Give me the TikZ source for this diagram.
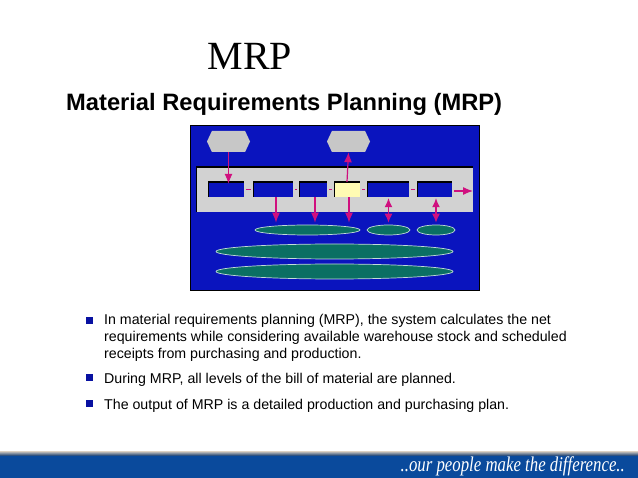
\documentclass[tikz,border=0pt]{standalone}
\usepackage{fontspec}
\setmainfont{Liberation Sans}
\newfontfamily\serifface{Liberation Serif}
\usetikzlibrary{shapes,backgrounds,arrows.meta}
\pgfdeclarelayer{nodelayer}
\pgfdeclarelayer{edgelayer}
\pgfsetlayers{nodelayer,edgelayer,main}
\definecolor{panelblue}{HTML}{0A14BE}
\definecolor{bandgrey}{HTML}{D2D2D2}
\definecolor{oval}{HTML}{0B6F63}
\definecolor{pink}{HTML}{D0107F}
\definecolor{footblue}{HTML}{0A4A9C}
\tikzstyle{none}=[inner sep=0pt]
\tikzstyle{panel}=[rectangle,fill=panelblue,draw=black,line width=0.6pt,inner sep=0pt,minimum width=289pt,minimum height=165pt]
\tikzstyle{band}=[rectangle,fill=bandgrey,inner sep=0pt,minimum width=277pt,minimum height=45pt,path picture={\draw[black,line width=2pt] (path picture bounding box.south west) |- (path picture bounding box.north east);}]
\tikzstyle{hexa}=[signal,signal to=east and west,signal pointer angle=130,fill=bandgrey!95!black,inner sep=0pt,minimum width=43pt,minimum height=21pt]
\tikzstyle{proc}=[rectangle,fill=panelblue,inner sep=0pt,minimum height=15pt,path picture={\draw[black,line width=2pt] (path picture bounding box.south west) |- (path picture bounding box.north east);}]
\tikzstyle{stock}=[ellipse,fill=oval,draw=white!75!oval,line width=0.7pt,inner sep=0pt]
\tikzstyle{bullet}=[rectangle,fill=panelblue!85!black,inner sep=0pt,minimum size=7pt]
\tikzstyle{body}=[anchor=base west,inner sep=0pt,align=left,font=\fontsize{14.2}{17}\selectfont]
\tikzstyle{link}=[draw=pink,line width=1.5pt]
\tikzstyle{flow}=[draw=pink,line width=1.2pt,-{Latex[length=10pt,width=8pt]}]
\tikzstyle{both}=[draw=pink,line width=1.2pt,{Latex[length=9pt,width=8pt]}-{Latex[length=9pt,width=8pt]}]

\begin{document}
\begin{tikzpicture}[x=1pt,y=1pt]
	\useasboundingbox (0,0) rectangle (638,-478);
	\begin{pgfonlayer}{nodelayer}
		\node [style=none,font=\serifface\fontsize{40}{40}\selectfont,anchor=base] (0) at (250,-70) {MRP};
		\node [style=none,font=\bfseries\fontsize{23.7}{26}\selectfont,anchor=base west] (1) at (66,-111) {Material Requirements Planning (MRP)};
		\node [style=panel] (2) at (334.5,-207.5) {};
		\node [style=band] (3) at (334.5,-189.5) {};
		\node [style=hexa] (4) at (228.5,-141.5) {};
		\node [style=hexa] (5) at (348.5,-141.5) {};
		\node [style=proc,minimum width=36pt] (6) at (226,-189.5) {};
		\node [style=proc,minimum width=40pt] (7) at (273,-189.5) {};
		\node [style=proc,minimum width=28pt] (8) at (313,-189.5) {};
		\node [style=proc,minimum width=26pt,fill=yellow!30] (9) at (347,-189.5) {};
		\node [style=proc,minimum width=42pt] (10) at (388,-189.5) {};
		\node [style=proc,minimum width=35pt] (11) at (434.5,-189.5) {};
		\node [style=none] (12) at (473,-191) {};
		\node [style=stock,minimum width=105pt,minimum height=10pt] (13) at (307.5,-230) {};
		\node [style=stock,minimum width=43pt,minimum height=10pt] (14) at (388.5,-230) {};
		\node [style=stock,minimum width=38pt,minimum height=10pt] (15) at (436,-230) {};
		\node [style=stock,minimum width=237pt,minimum height=15pt] (16) at (334.5,-251.5) {};
		\node [style=stock,minimum width=237pt,minimum height=15pt] (17) at (334.5,-271.5) {};
		\node [style=bullet] (18) at (89,-321) {};
		\node [style=bullet] (19) at (89,-378) {};
		\node [style=bullet] (20) at (89,-404) {};
		\node [style=body] (21) at (104,-359) {In material requirements planning (MRP), the system calculates the net\\requirements while considering available warehouse stock and scheduled\\receipts from purchasing and production.};
		\node [style=body] (22) at (104,-384) {During MRP, all levels of the bill of material are planned.};
		\node [style=body] (23) at (104,-410) {The output of MRP is a detailed production and purchasing plan.};
		\node [rectangle,inner sep=0pt,minimum width=638pt,minimum height=4pt,top color=gray!60,bottom color=footblue!70!black] (24) at (319,-454) {};
		\node [rectangle,fill=footblue,inner sep=0pt,minimum width=638pt,minimum height=22pt] (25) at (319,-467) {};
		\node [style=none,font=\serifface\itshape\fontsize{21}{23}\selectfont,text=white,anchor=base east,transform shape,xscale=0.8] (26) at (625,-472) {..our people make the difference..};
	\end{pgfonlayer}
	\begin{pgfonlayer}{edgelayer}
		\draw [style=flow] (4.south) to ([yshift=-2pt]6.north -| 4.south);
		\draw [style=flow] (9.north) to (5.south);
		\draw [style=link,shorten <=2pt,shorten >=2pt] (6.east) to (7.west);
		\draw [style=link,shorten <=2pt,shorten >=2pt] (7.east) to (8.west);
		\draw [style=link,shorten <=2pt,shorten >=2pt] (8.east) to (9.west);
		\draw [style=link,shorten <=2pt,shorten >=2pt] (9.east) to (10.west);
		\draw [style=link,shorten <=2pt,shorten >=2pt] (10.east) to (11.west);
		\draw [style=flow,shorten <=2pt] (11.east |- 12) to (12.center);
		\draw [style=flow,shorten >=2pt] ([xshift=3pt]7.south) to ([xshift=3pt]7.south |- 13.north);
		\draw [style=flow,shorten >=2pt] ([xshift=2pt]8.south) to ([xshift=2pt]8.south |- 13.north);
		\draw [style=flow,shorten >=2pt] ([xshift=2pt]9.south) to ([xshift=2pt]9.south |- 13.north);
		\draw [style=both,shorten >=2pt,shorten <=1pt] (14.north |- 10.south) to (14.north);
		\draw [style=both,shorten >=2pt,shorten <=1pt] (15.north |- 11.south) to (15.north);
	\end{pgfonlayer}
\end{tikzpicture}
\end{document}
